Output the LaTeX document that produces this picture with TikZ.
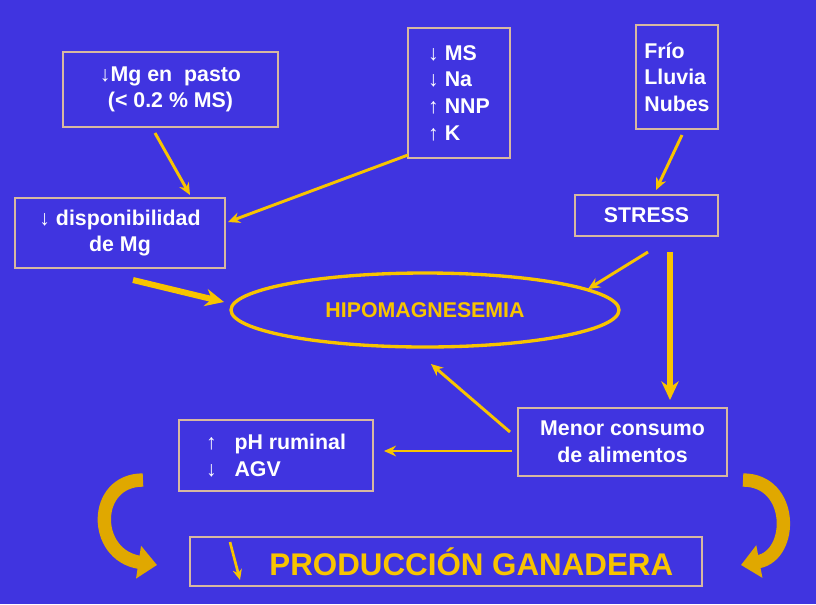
\documentclass[tikz,border=0pt]{standalone}
\usepackage{fontspec}
\setmainfont{Liberation Sans}
\usetikzlibrary{arrows.meta}
\definecolor{bg}{HTML}{4034E0}
\definecolor{yel}{HTML}{F8C400}
\definecolor{gold}{HTML}{E0A800}
\definecolor{bord}{HTML}{D8B8A0}
\begin{document}
\begin{tikzpicture}[x=0.75pt,y=-0.75pt,
 bx/.style={draw=bord,line width=0.8pt,font=\bfseries\fontsize{16}{20}\selectfont,text=white,align=center,inner sep=0pt},
 ar/.style={yel,line width=2.2pt,-{Stealth[length=9pt,width=8pt]}},
 tk/.style={yel,line width=4.5pt,-{Stealth[length=14pt,width=13pt]}},
 cv/.style={gold,line width=10pt,-{Triangle[length=14pt,width=24pt]}}]
\fill[bg] (0,0) rectangle (816,604);
\node[bx,minimum width=215*0.75pt,minimum height=75*0.75pt] (mg) at (170.5,89.5) {↓Mg en\ \ pasto\\(< 0.2 \% MS)};
\node[bx,minimum width=102*0.75pt,minimum height=130*0.75pt,align=left] (ms) at (459,93) {↓ MS\\↓ Na\\↑ NNP\\↑ K};
\node[bx,minimum width=82*0.75pt,minimum height=104*0.75pt,align=left] (fr) at (677,77) {Frío\\Lluvia\\Nubes};
\node[bx,minimum width=210*0.75pt,minimum height=70*0.75pt] (di) at (120,233) {↓ disponibilidad\\de Mg};
\node[bx,minimum width=143*0.75pt,minimum height=41*0.75pt] (st) at (646.5,215.5) {STRESS};
\draw[yel,line width=2.5pt] (425,310) ellipse [x radius=194, y radius=37];
\node[font=\bfseries\fontsize{16}{20}\selectfont,text=yel] (hi) at (425,310) {HIPOMAGNESEMIA};
\node[bx,minimum width=209*0.75pt,minimum height=68*0.75pt] (me) at (622.5,442) {Menor consumo\\de alimentos};
\node[bx,minimum width=194*0.75pt,minimum height=71*0.75pt,align=left] (ph) at (276,455.5) {↑\ \ \ pH ruminal\\↓\ \ \ AGV};
\node[bx,minimum width=512*0.75pt,minimum height=49*0.75pt,text=yel,font=\bfseries\fontsize{23.5}{28}\selectfont] (pr) at (446,561.5) {\hspace{38pt}PRODUCCIÓN GANADERA};
\coordinate (a1) at (155,133); \coordinate (a2) at (190,195);
\draw[ar] (a1) -- (a2);
\coordinate (b1) at (408,155); \coordinate (b2) at (228,222);
\draw[ar] (b1) -- (b2);
\coordinate (c1) at (682,135); \coordinate (c2) at (656,190);
\draw[ar] (c1) -- (c2);
\coordinate (d1) at (648,252); \coordinate (d2) at (588,289);
\draw[ar] (d1) -- (d2);
\coordinate (e1) at (670,252); \coordinate (e2) at (670,400);
\draw[tk] (e1) -- (e2);
\coordinate (f1) at (133,280); \coordinate (f2) at (224,302);
\draw[tk] (f1) -- (f2);
\coordinate (g1) at (510,432); \coordinate (g2) at (431,364);
\draw[ar] (g1) -- (g2);
\coordinate (h1) at (512,451); \coordinate (h2) at (384,451);
\draw[ar] (h1) -- (h2);
\coordinate (l1) at (143,480); \coordinate (l2) at (157,565);
\draw[cv] (l1) .. controls (92,480) and (92,555) .. (l2);
\coordinate (r1) at (743,480); \coordinate (r2) at (741,565);
\draw[cv] (r1) .. controls (794,480) and (794,555) .. (r2);
\coordinate (z1) at (230,542); \coordinate (z2) at (240,580);
\draw[yel,line width=2pt,-{Stealth[length=8pt,width=7pt]}] (z1) -- (z2);
\end{tikzpicture}
\end{document}
